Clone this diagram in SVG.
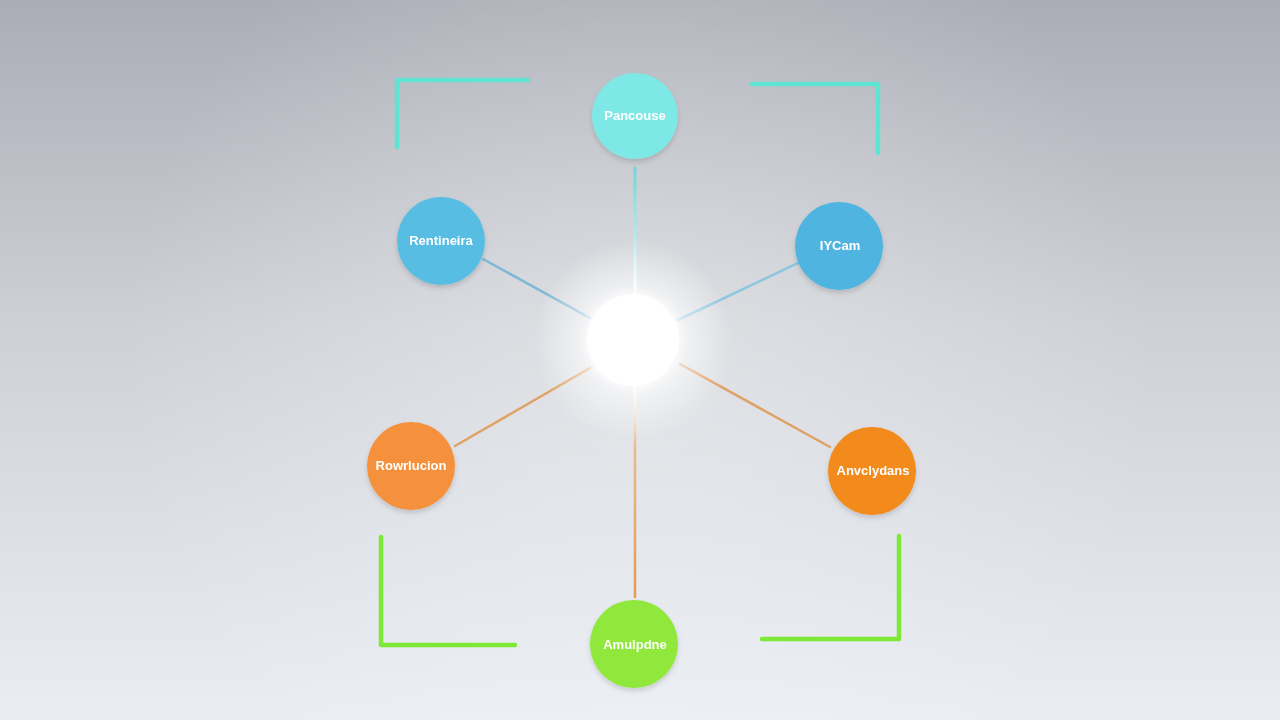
<svg xmlns="http://www.w3.org/2000/svg" width="1280" height="720" viewBox="0 0 1280 720">
<defs>
<linearGradient id="bg" x1="0" y1="0" x2="0" y2="1">
<stop offset="0" stop-color="#aaadb5"/>
<stop offset="0.45" stop-color="#cdd0d6"/>
<stop offset="1" stop-color="#eaeef4"/>
</linearGradient>
<radialGradient id="bglight" cx="640" cy="360" r="520" gradientUnits="userSpaceOnUse">
<stop offset="0" stop-color="#ffffff" stop-opacity="0.35"/>
<stop offset="1" stop-color="#ffffff" stop-opacity="0"/>
</radialGradient>
<radialGradient id="glow" cx="0.5" cy="0.5" r="0.5">
<stop offset="0" stop-color="#ffffff" stop-opacity="1"/>
<stop offset="0.4" stop-color="#ffffff" stop-opacity="1"/>
<stop offset="0.55" stop-color="#ffffff" stop-opacity="0.55"/>
<stop offset="1" stop-color="#ffffff" stop-opacity="0"/>
</radialGradient>
<linearGradient id="lineTop" gradientUnits="userSpaceOnUse" x1="635" y1="168" x2="635" y2="300"><stop offset="0" stop-color="#6fd6d8"/><stop offset="0.6" stop-color="#bfeef0"/><stop offset="1" stop-color="#ffffff"/></linearGradient>
<linearGradient id="lineBot" gradientUnits="userSpaceOnUse" x1="635" y1="385" x2="635" y2="597"><stop offset="0" stop-color="#ffffff"/><stop offset="0.3" stop-color="#e8bb8e"/><stop offset="1" stop-color="#e39a55"/></linearGradient>
<filter id="sh" x="-30%" y="-30%" width="160%" height="160%">
<feDropShadow dx="0" dy="3" stdDeviation="2.5" flood-color="#000" flood-opacity="0.15"/>
</filter>
</defs>
<style>
.lbl{font-family:"Liberation Sans",Arial,sans-serif;font-size:13px;font-weight:bold;fill:#ffffff;text-anchor:middle;dominant-baseline:central}
.br{fill:none;stroke-width:4.5;stroke-linecap:round;stroke-linejoin:round}
.cy{stroke:#5fe3d2}
.gr{stroke:#7de835}
</style>
<rect width="1280" height="720" fill="url(#bg)"/>
<rect width="1280" height="720" fill="url(#bglight)"/>
<g id="brackets">
<polyline class="br cy" points="528,80 397,80 397,147"/>
<polyline class="br cy" points="752,84 878,84 878,153"/>
<polyline class="br gr" points="381,537 381,645 515,645"/>
<polyline class="br gr" points="899,536 899,639 762,639"/>
</g>
<g id="connectors" stroke-width="2.5" stroke-linecap="round">
<line x1="635" y1="168" x2="635" y2="300" stroke="url(#lineTop)" stroke-width="3"/>
<line x1="483" y1="259" x2="590" y2="318" stroke="#7fb8d4"/>
<line x1="800" y1="262" x2="678" y2="320" stroke="#8ec6e0"/>
<line x1="455" y1="446" x2="590" y2="368" stroke="#e0a264"/>
<line x1="830" y1="447" x2="680" y2="364" stroke="#e0a264"/>
<line x1="635" y1="385" x2="635" y2="597" stroke="url(#lineBot)"/>
</g>
<g id="hub">
<circle cx="633" cy="340" r="100" fill="url(#glow)"/>
<circle cx="633" cy="340" r="46" fill="#ffffff"/>
</g>
<g id="node-top" filter="url(#sh)">
<circle cx="635" cy="116" r="43" fill="#7ee8e6"/>
<text class="lbl" x="635" y="115">Pancouse</text>
</g>
<g id="node-left-upper" filter="url(#sh)">
<circle cx="441" cy="241" r="44" fill="#58bde2"/>
<text class="lbl" x="441" y="240">Rentineira</text>
</g>
<g id="node-right-upper" filter="url(#sh)">
<circle cx="839" cy="246" r="44" fill="#50b4e0"/>
<text class="lbl" x="840" y="245">IYCam</text>
</g>
<g id="node-left-lower" filter="url(#sh)">
<circle cx="411" cy="466" r="44" fill="#f5913d"/>
<text class="lbl" x="411" y="465">Rowrlucion</text>
</g>
<g id="node-right-lower" filter="url(#sh)">
<circle cx="872" cy="471" r="44" fill="#f38a1e"/>
<text class="lbl" x="873" y="470">Anvclydans</text>
</g>
<g id="node-bottom" filter="url(#sh)">
<circle cx="634" cy="644" r="44" fill="#8fe83a"/>
<text class="lbl" x="635" y="644">Amulpdne</text>
</g>
</svg>
